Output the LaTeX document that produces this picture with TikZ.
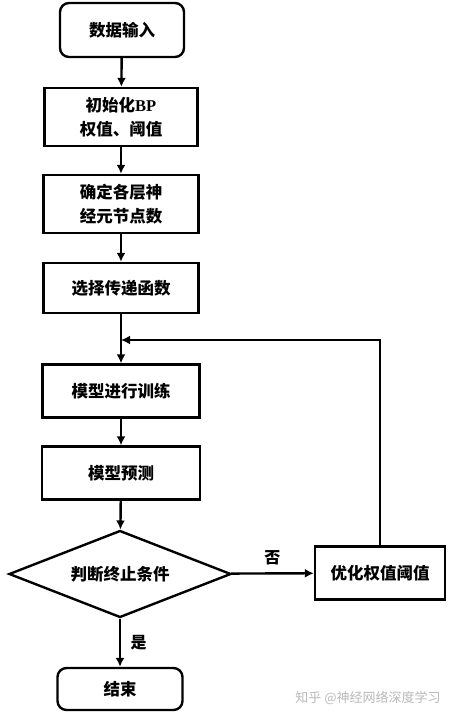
\documentclass[tikz,border=0pt]{standalone}
\usepackage{fontspec}
\setmainfont{Liberation Serif}
\newfontfamily\cjk{Noto Sans CJK SC}
\usetikzlibrary{shapes.geometric,arrows.meta}

\tikzset{
    box/.style = {draw, line width=2.4pt, align=center, font=\cjk\bfseries\fontsize{16.5}{24}\selectfont},
    process/.style = {box, rectangle},
    startstop/.style = {box, rectangle, rounded corners=9pt},
    decision/.style = {box, diamond, aspect=2.5, inner sep=0pt},
    arrow/.style = {line width=2.4pt, -{Latex[length=9pt,width=9pt]}}
}

\begin{document}
\begin{tikzpicture}[x=1pt, y=-1pt]
    \useasboundingbox (0,0) rectangle (454,717);

    % Flow boxes
    \node[startstop, minimum width=124pt, minimum height=54pt] (input) at (122,30) {数据输入};
    \node[process, minimum width=153pt, minimum height=58pt] (init) at (121,117) {初始化{\normalfont\bfseries BP}\\权值、阈值};
    \node[process, minimum width=155pt, minimum height=58pt] (layer) at (121,204) {确定各层神\\经元节点数};
    \node[process, minimum width=155pt, minimum height=50pt] (func) at (121,288) {选择传递函数};
    \node[process, minimum width=157pt, minimum height=53pt] (train) at (121,391) {模型进行训练};
    \node[process, minimum width=158pt, minimum height=53pt] (pred) at (121,473) {模型预测};
    \node[decision, minimum width=222pt, minimum height=87pt] (judge) at (120,574) {判断终止条件};
    \node[process, minimum width=130pt, minimum height=53pt] (opt) at (380,573) {优化权值阈值};
    \node[startstop, minimum width=125pt, minimum height=42pt] (end) at (120,689) {结束};

    % Connectors
    \draw[arrow] (input) -- (init);
    \draw[arrow] (init) -- (layer);
    \draw[arrow] (layer) -- (func);
    \draw[arrow] (func) -- (train);
    \draw[arrow] (train) -- (pred);
    \draw[arrow] (pred) -- (judge);
    \draw[arrow] (judge) -- node[above=4pt, font=\cjk\bfseries\fontsize{16}{16}\selectfont] {否} (opt);
    \draw[arrow] (judge) -- node[right=6pt, font=\cjk\bfseries\fontsize{16}{16}\selectfont] {是} (end);

    % Feedback loop
    \coordinate (loop) at (121,340);
    \draw[arrow] (opt.north) |- (loop);

    % Watermark
    \node[gray!55, font=\cjk\fontsize{13}{13}\selectfont] (mark) at (368,698) {知乎 @神经网络深度学习};
\end{tikzpicture}
\end{document}
